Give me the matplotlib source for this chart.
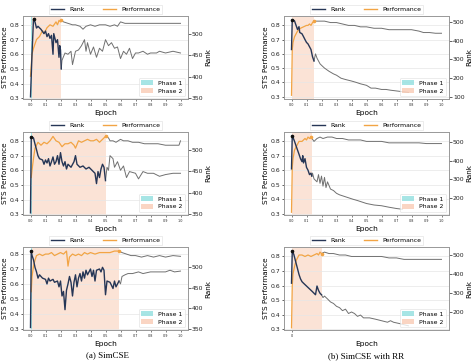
import numpy as np
import matplotlib.pyplot as plt
from matplotlib.lines import Line2D
from matplotlib.patches import Patch

# ---- data (epoch, STS performance, rank) ----
# (a) SimCSE, panel 1
a1_rank_x = [0, 0.01, 0.02, 0.03, 0.04, 0.05, 0.07, 0.09, 0.10, 0.11, 0.12, 0.13, 0.14, 0.15, 0.155,
             0.17, 0.18, 0.19, 0.195, 0.20, 0.205, 0.21, 0.23, 0.25, 0.27, 0.28, 0.30, 0.32, 0.34,
             0.36, 0.37, 0.38, 0.40, 0.42, 0.44, 0.46, 0.48, 0.50, 0.52, 0.54, 0.56, 0.58, 0.60,
             0.62, 0.64, 0.66, 0.68, 0.70, 0.72, 0.75, 0.78, 0.80, 0.84, 0.86, 0.90, 0.95, 1.0]
a1_rank_y = [353, 452, 534, 527, 513, 517, 510, 500, 506, 493, 500, 489, 496, 452, 500,
             479, 486, 445, 472, 462, 418, 438, 455, 452, 459, 428, 459, 462, 472,
             486, 459, 479, 452, 469, 445, 466, 459, 486, 472, 479, 466, 469, 442,
             459, 452, 466, 442, 455, 455, 459, 452, 455, 455, 459, 455, 459, 455]
a1_perf_x = [0, 0.01, 0.02, 0.04, 0.06, 0.08, 0.09, 0.11, 0.13, 0.15, 0.17, 0.18, 0.19, 0.20, 0.205,
             0.22, 0.25, 0.28, 0.30, 0.33, 0.35, 0.37, 0.40, 0.43, 0.46, 0.50, 0.53, 0.56, 0.58,
             0.60, 0.63, 0.66, 0.70, 0.75, 0.80, 0.85, 0.90, 0.95, 1.0]
a1_perf_y = [0.45, 0.60, 0.64, 0.70, 0.72, 0.76, 0.74, 0.78, 0.80, 0.79, 0.82, 0.80, 0.83, 0.82, 0.83,
             0.82, 0.81, 0.80, 0.80, 0.79, 0.77, 0.79, 0.80, 0.79, 0.80, 0.80, 0.79, 0.80, 0.79,
             0.82, 0.81, 0.81, 0.81, 0.81, 0.81, 0.81, 0.81, 0.81, 0.81]

# (a) SimCSE, panel 2
a2_rank_x = [0, 0.005, 0.02, 0.03, 0.04, 0.05, 0.06, 0.08, 0.09, 0.10, 0.11, 0.12, 0.13, 0.14, 0.15,
             0.16, 0.17, 0.18, 0.19, 0.20, 0.21, 0.22, 0.23, 0.24, 0.25, 0.27, 0.29, 0.30, 0.31,
             0.33, 0.35, 0.37, 0.39, 0.41, 0.43, 0.44, 0.45, 0.46, 0.47, 0.48, 0.49, 0.50, 0.51,
             0.52, 0.53, 0.55, 0.56, 0.58, 0.60, 0.62, 0.64, 0.66, 0.70, 0.72, 0.75, 0.78, 0.82,
             0.86, 0.90, 0.95, 1.0]
a2_rank_y = [353, 530, 527, 513, 500, 486, 479, 476, 466, 476, 469, 479, 462, 472, 483,
             466, 472, 486, 466, 493, 472, 462, 472, 455, 466, 459, 472, 486, 466,
             459, 462, 455, 459, 452, 445, 421, 449, 435, 455, 466, 459, 428, 459,
             452, 486, 479, 459, 472, 452, 462, 435, 449, 445, 432, 449, 445, 445,
             438, 442, 445, 445]
a2_perf_x = [0.005, 0.01, 0.02, 0.03, 0.05, 0.07, 0.09, 0.11, 0.13, 0.15, 0.17, 0.19, 0.21, 0.23,
             0.25, 0.27, 0.29, 0.30, 0.32, 0.34, 0.36, 0.38, 0.40, 0.42, 0.44, 0.46, 0.48, 0.50,
             0.52, 0.53, 0.55, 0.57, 0.60, 0.62, 0.65, 0.68, 0.72, 0.76, 0.80, 0.85, 0.90, 0.95,
             0.99, 1.0]
a2_perf_y = [0.55, 0.60, 0.68, 0.75, 0.79, 0.77, 0.79, 0.78, 0.80, 0.83, 0.80, 0.79, 0.76, 0.78,
             0.78, 0.79, 0.77, 0.75, 0.80, 0.79, 0.80, 0.81, 0.80, 0.80, 0.81, 0.79, 0.81, 0.83,
             0.82, 0.80, 0.80, 0.79, 0.81, 0.80, 0.80, 0.79, 0.79, 0.78, 0.78, 0.78, 0.77, 0.77,
             0.77, 0.80]

# (a) SimCSE, panel 3
a3_rank_x = [0, 0.005, 0.01, 0.02, 0.03, 0.04, 0.05, 0.06, 0.08, 0.10, 0.11, 0.12, 0.13, 0.15, 0.16,
             0.18, 0.19, 0.20, 0.21, 0.22, 0.23, 0.24, 0.25, 0.26, 0.27, 0.28, 0.29, 0.30, 0.31,
             0.32, 0.33, 0.34, 0.35, 0.36, 0.37, 0.38, 0.40, 0.41, 0.42, 0.43, 0.44, 0.46, 0.47,
             0.48, 0.49, 0.50, 0.51, 0.53, 0.55, 0.56, 0.57, 0.58, 0.59, 0.60, 0.61, 0.63, 0.65,
             0.68, 0.72, 0.75, 0.80, 0.85, 0.90, 0.93, 0.96, 1.0]
a3_rank_y = [354, 539, 528, 517, 499, 488, 473, 481, 473, 470, 459, 473, 466, 470, 463,
             466, 452, 466, 430, 441, 397, 444, 459, 477, 463, 430, 463, 481, 452,
             473, 484, 466, 488, 473, 492, 481, 495, 477, 492, 466, 492, 495, 488,
             499, 492, 433, 466, 463, 448, 466, 452, 459, 466, 459, 477, 481, 484,
             484, 488, 484, 488, 488, 488, 492, 488, 490]
a3_perf_x = [0.005, 0.01, 0.02, 0.03, 0.04, 0.06, 0.08, 0.10, 0.12, 0.14, 0.16, 0.18, 0.20, 0.22,
             0.24, 0.25, 0.26, 0.28, 0.30, 0.32, 0.34, 0.36, 0.38, 0.40, 0.43, 0.46, 0.50, 0.53,
             0.56, 0.59, 0.61, 0.64, 0.67, 0.70, 0.74, 0.78, 0.82, 0.86, 0.90, 0.95, 1.0]
a3_perf_y = [0.55, 0.65, 0.72, 0.76, 0.79, 0.80, 0.79, 0.80, 0.80, 0.81, 0.79, 0.80, 0.81, 0.80,
             0.82, 0.72, 0.78, 0.80, 0.79, 0.80, 0.79, 0.81, 0.80, 0.81, 0.80, 0.81, 0.81, 0.81,
             0.82, 0.82, 0.81, 0.80, 0.79, 0.79, 0.78, 0.79, 0.78, 0.79, 0.78, 0.79, 0.785]

# (b) SimCSE with RR, panel 1
b1_rank_x = [0, 0.005, 0.02, 0.03, 0.04, 0.05, 0.055, 0.07, 0.08, 0.09, 0.10, 0.11, 0.12, 0.13, 0.14,
             0.15, 0.16, 0.17, 0.19, 0.20, 0.22, 0.25, 0.28, 0.30, 0.33, 0.36, 0.40, 0.43, 0.46,
             0.50, 0.53, 0.56, 0.60, 0.63, 0.66, 0.70, 0.74, 0.78]
b1_rank_y = [353, 513, 506, 483, 460, 475, 444, 437, 422, 406, 391, 383, 368, 353, 315,
             292, 330, 307, 277, 269, 254, 237, 223, 216, 200, 193, 185, 178, 170,
             162, 147, 147, 140, 140, 136, 132, 128, 124]
b1_perf_x = [0, 0.005, 0.01, 0.02, 0.03, 0.04, 0.06, 0.08, 0.10, 0.11, 0.12, 0.13, 0.14, 0.15,
             0.18, 0.22, 0.26, 0.30, 0.34, 0.38, 0.42, 0.46, 0.50, 0.55, 0.60, 0.65, 0.70, 0.75,
             0.80, 0.85, 0.88, 0.92, 0.96, 1.0]
b1_perf_y = [0.31, 0.63, 0.68, 0.72, 0.74, 0.76, 0.78, 0.79, 0.80, 0.80, 0.81, 0.80, 0.82, 0.83,
             0.83, 0.83, 0.82, 0.82, 0.81, 0.80, 0.80, 0.79, 0.79, 0.78, 0.78, 0.77, 0.77, 0.77,
             0.77, 0.76, 0.75, 0.75, 0.745, 0.745]

# (b) SimCSE with RR, panel 2
b2_rank_x = [0, 0.005, 0.02, 0.03, 0.04, 0.05, 0.06, 0.07, 0.075, 0.08, 0.09, 0.10, 0.11, 0.12,
             0.13, 0.135, 0.14, 0.15, 0.17, 0.18, 0.19, 0.20, 0.21, 0.22, 0.23, 0.24, 0.26, 0.28,
             0.30, 0.32, 0.35, 0.38, 0.41, 0.44, 0.47, 0.50, 0.55, 0.60, 0.65, 0.70, 0.74]
b2_rank_y = [355, 535, 504, 480, 457, 434, 410, 394, 426, 387, 410, 363, 348, 324,
             332, 316, 332, 301, 285, 324, 277, 316, 262, 309, 254, 285, 246, 238,
             223, 215, 207, 199, 191, 184, 176, 168, 160, 156, 148, 141, 137]
b2_perf_x = [0, 0.005, 0.01, 0.02, 0.04, 0.05, 0.07, 0.08, 0.09, 0.10, 0.11, 0.12, 0.13, 0.15,
             0.17, 0.19, 0.21, 0.24, 0.27, 0.30, 0.34, 0.38, 0.42, 0.46, 0.50, 0.55, 0.60, 0.65,
             0.70, 0.75, 0.80, 0.85, 0.90, 0.95, 1.0]
b2_perf_y = [0.31, 0.62, 0.68, 0.74, 0.78, 0.80, 0.80, 0.81, 0.82, 0.81, 0.83, 0.82, 0.83, 0.80,
             0.82, 0.83, 0.82, 0.83, 0.83, 0.82, 0.82, 0.81, 0.81, 0.81, 0.80, 0.80, 0.80, 0.79,
             0.79, 0.79, 0.79, 0.79, 0.785, 0.785, 0.785]

# (b) SimCSE with RR, panel 3
b3_rank_x = [0, 0.005, 0.015, 0.03, 0.04, 0.05, 0.06, 0.07, 0.08, 0.10, 0.12, 0.14, 0.16, 0.17,
             0.18, 0.19, 0.20, 0.21, 0.22, 0.24, 0.26, 0.28, 0.30, 0.32, 0.34, 0.36, 0.38, 0.40,
             0.42, 0.44, 0.46, 0.48, 0.52, 0.56, 0.60, 0.64, 0.66, 0.68, 0.72, 0.76, 0.78]
b3_rank_y = [350, 518, 503, 457, 427, 396, 373, 358, 350, 335, 320, 305, 289, 335,
             312, 297, 289, 274, 282, 267, 251, 243, 228, 221, 205, 213, 190, 198,
             190, 175, 182, 167, 167, 160, 152, 144, 152, 144, 137, 129, 125]
b3_perf_x = [0, 0.005, 0.01, 0.02, 0.03, 0.04, 0.05, 0.07, 0.09, 0.11, 0.13, 0.15, 0.17, 0.18,
             0.19, 0.20, 0.22, 0.25, 0.28, 0.32, 0.36, 0.40, 0.45, 0.50, 0.55, 0.60, 0.65, 0.70,
             0.75, 0.80, 0.85, 0.90, 0.95, 1.0]
b3_perf_y = [0.31, 0.60, 0.68, 0.73, 0.77, 0.79, 0.81, 0.81, 0.80, 0.81, 0.80, 0.81, 0.82, 0.81,
             0.83, 0.82, 0.83, 0.82, 0.82, 0.81, 0.81, 0.80, 0.80, 0.80, 0.80, 0.80, 0.79, 0.79,
             0.78, 0.78, 0.78, 0.78, 0.78, 0.78]

phase1_end = [0.012, 0.012, 0.012, 0.006, 0.006, 0.006]
phase2_end = [0.205, 0.50, 0.59, 0.15, 0.135, 0.20]

panels = [
    (a1_rank_x, a1_rank_y, a1_perf_x, a1_perf_y),
    (a2_rank_x, a2_rank_y, a2_perf_x, a2_perf_y),
    (a3_rank_x, a3_rank_y, a3_perf_x, a3_perf_y),
    (b1_rank_x, b1_rank_y, b1_perf_x, b1_perf_y),
    (b2_rank_x, b2_rank_y, b2_perf_x, b2_perf_y),
    (b3_rank_x, b3_rank_y, b3_perf_x, b3_perf_y),
]
perf_lims = [(0.295, 0.86), (0.295, 0.86), (0.296, 0.847), (0.284, 0.866), (0.291, 0.865), (0.295, 0.865)]
rank_lims = [(348, 541), (348, 541), (348, 548), (89, 532), (106, 554), (103, 541)]
rank_ticks = [[350, 400, 450, 500]] * 3 + [[100, 200, 300, 400, 500], [200, 300, 400, 500], [200, 300, 400, 500]]

RANK_C = "#263656"
PERF_C = "#f2a444"
GRAY = "#707070"
P1_C = "#5fd0d0"
P2_C = "#f5a37a"

plt.rcParams["font.family"] = "DejaVu Sans"
fig = plt.figure(figsize=(4.74, 3.63), dpi=100)

lefts = [23 / 474, 284 / 474]
tops = [16, 132, 247]
W = 165 / 474
H = 83 / 363


def split_plot(ax, x, y, end, color, lw, z):
    x = np.asarray(x, float)
    y = np.asarray(y, float)
    k = np.searchsorted(x, end, side="right")
    ax.plot(x[:k], y[:k], color=color, lw=lw, zorder=z)
    ax.plot(x[k - 1:], y[k - 1:], color=GRAY, lw=0.7, zorder=z - 0.5)


for i, (rx, ry, px, py) in enumerate(panels):
    col, row = divmod(i, 3)
    ax = fig.add_axes([lefts[col], 1 - (tops[row] + 83) / 363, W, H])
    ax2 = ax.twinx()

    ax.axvspan(0, phase1_end[i], color=P1_C, alpha=0.55, lw=0, zorder=0)
    ax.axvspan(phase1_end[i], phase2_end[i], color=P2_C, alpha=0.3, lw=0, zorder=0)

    split_plot(ax, px, py, phase2_end[i], PERF_C, 0.9, 3)
    split_plot(ax2, rx, ry, phase2_end[i], RANK_C, 1.0, 3)

    # markers: rank peak, performance at end of phase 2
    j = int(np.argmax(ry))
    ax2.plot(rx[j], ry[j], "o", color="#111111", ms=1.6, zorder=5)
    k = np.searchsorted(px, phase2_end[i], side="right") - 1
    ax.plot(px[k], py[k], "o", color=PERF_C, ms=1.6, zorder=5)

    ax.set_xlim(-0.05, 1.05)
    ax.set_ylim(*perf_lims[i])
    ax2.set_ylim(*rank_lims[i])
    ax.set_yticks([0.3, 0.4, 0.5, 0.6, 0.7, 0.8])
    ax2.set_yticks(rank_ticks[i])
    if i == 5:
        ax.set_xticks([0])
        ax.set_xticklabels(["0"])
    else:
        ax.set_xticks(np.round(np.arange(0, 1.01, 0.1), 1))

    ax.grid(axis="y", color="#e6e6e6", lw=0.5, zorder=0)
    ax.set_axisbelow(True)
    for a in (ax, ax2):
        for s in a.spines.values():
            s.set_color("#999999")
            s.set_linewidth(0.6)
    ax.tick_params(axis="y", labelsize=4.4, length=1.8, width=0.5, pad=1, colors="#222222")
    ax.tick_params(axis="x", labelsize=2.4, length=1.5, width=0.4, pad=1.5, colors="#222222")
    ax2.tick_params(axis="y", labelsize=4.4, length=1.8, width=0.5, pad=1, colors="#222222")
    ax.set_ylabel("STS Performance", fontsize=5.2, labelpad=1)
    ax2.set_ylabel("Rank", fontsize=5.2, labelpad=1.5)
    ax.set_xlabel("Epoch", fontsize=5.4, labelpad=2)

    top_handles = [Line2D([], [], color=RANK_C, lw=1.0), Line2D([], [], color=PERF_C, lw=1.0)]
    leg = ax2.legend(top_handles, ["Rank", "Performance"], loc="lower center",
                     bbox_to_anchor=(0.5, 0.985), ncol=2, fontsize=4.4, frameon=True,
                     handlelength=2.2, columnspacing=3.0, borderpad=0.35, fancybox=False,
                     edgecolor="#dddddd")
    leg.get_frame().set_linewidth(0.5)
    ax2.add_artist(leg)
    ph = [Patch(facecolor=P1_C, alpha=0.55, lw=0), Patch(facecolor=P2_C, alpha=0.45, lw=0)]
    leg2 = ax2.legend(ph, ["Phase 1", "Phase 2"], loc="lower right", fontsize=4.4,
                      frameon=True, handlelength=2.0, handleheight=0.9, borderpad=0.4,
                      labelspacing=0.35, edgecolor="#dddddd", fancybox=True)
    leg2.get_frame().set_linewidth(0.5)

fig.text(107 / 474, 1 - 355 / 363, "(a) SimCSE", ha="center", va="center",
         fontsize=6.5, family="Liberation Serif")
fig.text(366 / 474, 1 - 356 / 363, "(b) SimCSE with RR", ha="center", va="center",
         fontsize=6.5, family="Liberation Serif")

fig.savefig("out.png", dpi=100)
